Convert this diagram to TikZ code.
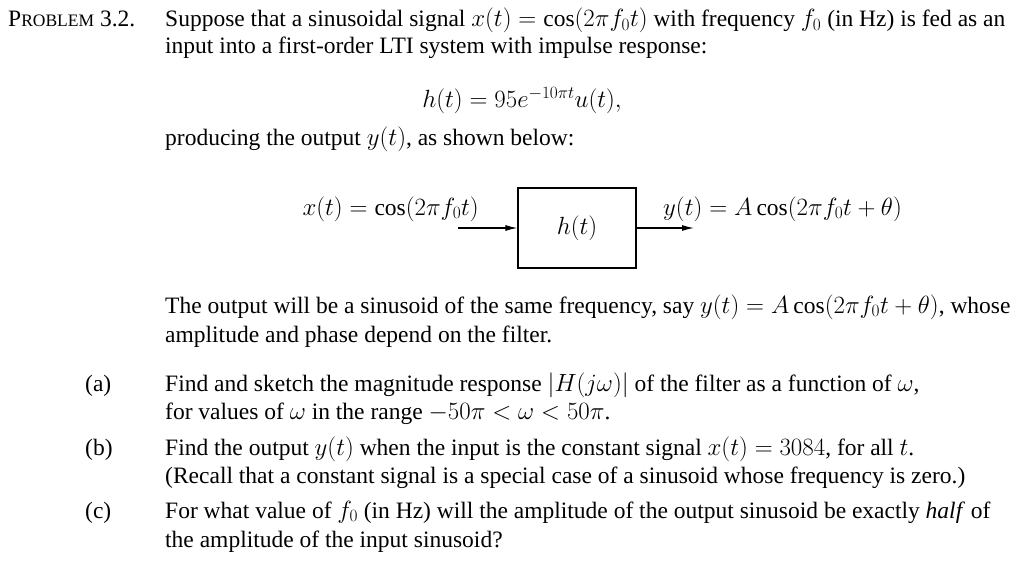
\documentclass[tikz,border=0pt]{standalone}
\usepackage{fontspec}
\setmainfont{Liberation Serif}
\usetikzlibrary{arrows.meta}
\begin{document}
\begin{tikzpicture}[x=1pt,y=-1pt,
  txt/.style={anchor=base west,inner sep=0pt,font=\fontsize{23.5}{28}\selectfont},
  sysbox/.style={draw,line width=1.2pt,minimum width=118pt,minimum height=80pt,inner sep=0pt,font=\fontsize{23.5}{28}\selectfont},
  sig/.style={line width=1.2pt,-{Latex[length=12pt,width=6pt]}}]
\useasboundingbox (0,0) rectangle (1024,561);
\node[txt] (p) at (8,27) {P{\fontsize{17.5}{20}\selectfont ROBLEM} 3.2.};
\node[txt] (l1) at (165,27) {Suppose that a sinusoidal signal $x(t)=\cos(2\pi f_0 t)$ with frequency $f_0$ (in Hz) is fed as an};
\node[txt] (l2) at (165,54) {input into a first-order LTI system with impulse response:};
\node[txt,anchor=base] (eq) at (522,108) {$h(t)=95e^{-10\pi t}u(t),$};
\node[txt] (l3) at (165,146) {producing the output $y(t)$, as shown below:};
\node[sysbox] (h) at (577,228) {$h(t)$};
\coordinate (in) at (458,228);
\coordinate (out) at (694,228);
\draw[sig] (in) -- (h.west);
\draw[sig] (h.east) -- (out);
\node[txt,anchor=base east] (xl) at (479,215) {$x(t)=\cos(2\pi f_0 t)$};
\node[txt] (yl) at (663,215) {$y(t)=A\cos(2\pi f_0 t+\theta)$};
\node[txt] (l4) at (165,313) {The output will be a sinusoid of the same frequency, say $y(t)=A\cos(2\pi f_0 t+\theta)$, whose};
\node[txt] (l5) at (165,342) {amplitude and phase depend on the filter.};
\node[txt] (a) at (85,391) {(a)};
\node[txt] (a1) at (165,391) {Find and sketch the magnitude response $|H(j\omega)|$ of the filter as a function of $\omega$,};
\node[txt] (a2) at (165,419) {for values of $\omega$ in the range $-50\pi<\omega<50\pi$.};
\node[txt] (b) at (85,455) {(b)};
\node[txt] (b1) at (165,455) {Find the output $y(t)$ when the input is the constant signal $x(t)=3084$, for all $t$.};
\node[txt] (b2) at (165,483) {(Recall that a constant signal is a special case of a sinusoid whose frequency is zero.)};
\node[txt] (c) at (85,518) {(c)};
\node[txt] (c1) at (165,518) {For what value of $f_0$ (in Hz) will the amplitude of the output sinusoid be exactly \emph{half} of};
\node[txt] (c2) at (165,547) {the amplitude of the input sinusoid?};
\end{tikzpicture}
\end{document}
